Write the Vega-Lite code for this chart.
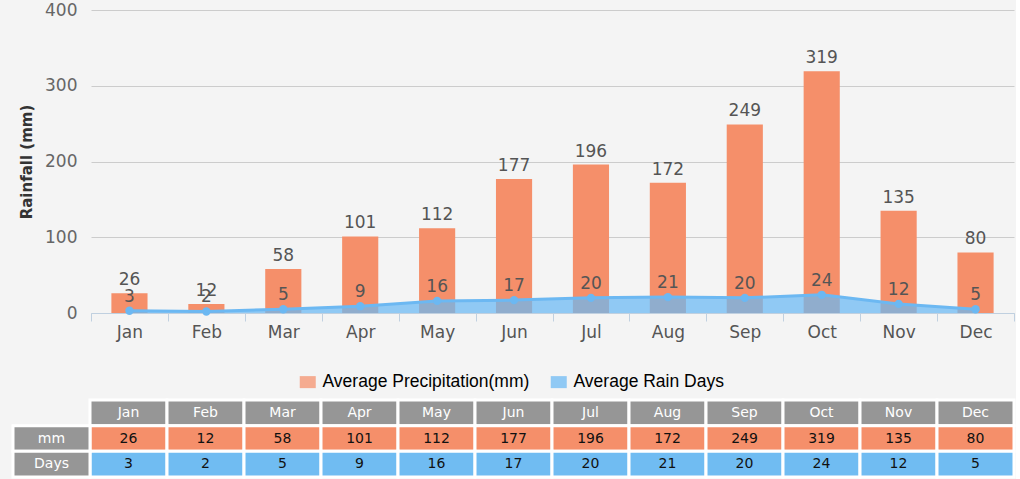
{
  "$schema": "https://vega.github.io/schema/vega-lite/v6.json",
  "background": "#f4f4f4",
  "padding": {"left": 11, "top": 1, "right": 0, "bottom": 2},
  "spacing": 58,
  "config": {"view": {"stroke": null}, "font": "DejaVu Sans"},
  "datasets": {
    "climate": [
      {"month": "Jan", "mm": 26, "days": 3},
      {"month": "Feb", "mm": 12, "days": 2},
      {"month": "Mar", "mm": 58, "days": 5},
      {"month": "Apr", "mm": 101, "days": 9},
      {"month": "May", "mm": 112, "days": 16},
      {"month": "Jun", "mm": 177, "days": 17},
      {"month": "Jul", "mm": 196, "days": 20},
      {"month": "Aug", "mm": 172, "days": 21},
      {"month": "Sep", "mm": 249, "days": 20},
      {"month": "Oct", "mm": 319, "days": 24},
      {"month": "Nov", "mm": 135, "days": 12},
      {"month": "Dec", "mm": 80, "days": 5}
    ],
    "rowlabels": [
      {"month": " ", "row": "mm", "label": "mm"},
      {"month": " ", "row": "Days", "label": "Days"}
    ]
  },
  "vconcat": [
    {
      "width": 923,
      "height": 303,
      "data": {"name": "climate"},
      "encoding": {
        "x": {
          "field": "month", "type": "nominal", "sort": null,
          "scale": {"paddingInner": 0, "paddingOuter": 0},
          "axis": {
            "title": null, "labelAngle": 0, "labelFontSize": 17, "labelColor": "#555",
            "domainColor": "#c0d0e0", "tickColor": "#c0d0e0", "tickSize": 8,
            "tickBand": "extent", "labelPadding": 3, "grid": false
          }
        }
      },
      "layer": [
        {
          "mark": {"type": "bar", "width": {"band": 0.47}},
          "encoding": {
            "y": {
              "field": "mm", "type": "quantitative",
              "scale": {"domain": [0, 400], "nice": false},
              "axis": {
                "title": "Rainfall (mm)", "titleFontSize": 15, "titleFontWeight": "bold",
                "titleColor": "#333", "titlePadding": 10,
                "values": [0, 100, 200, 300, 400], "labelFontSize": 17, "labelColor": "#666",
                "labelPadding": 14, "domain": false, "ticks": false,
                "gridColor": "#cccccc"
              }
            },
            "color": {
              "datum": "Average Precipitation(mm)",
              "scale": {
                "domain": ["Average Precipitation(mm)", "Average Rain Days"],
                "range": ["#f58f6a", "#6ab9f4"]
              },
              "legend": {
                "title": null, "orient": "none", "legendX": 208, "legendY": 363,
                "direction": "horizontal", "symbolType": "M-1,-0.75H1V0.75H-1Z", "symbolSize": 256,
                "symbolOpacity": 1, "symbolStrokeWidth": 0, "labelLimit": 0, "labelOffset": 6,
                "labelFont": "Liberation Sans", "labelFontSize": 17.5, "labelColor": "#000",
                "columnPadding": 20
              }
            }
          }
        },
        {
          "mark": {"type": "area", "opacity": 0.72},
          "encoding": {
            "y": {"field": "days", "type": "quantitative"},
            "color": {"datum": "Average Rain Days"}
          }
        },
        {
          "mark": {"type": "line", "color": "#6cb8f2", "strokeWidth": 3,
                   "point": {"filled": true, "size": 70, "color": "#6cb8f2"}},
          "encoding": {"y": {"field": "days", "type": "quantitative"}}
        },
        {
          "mark": {"type": "text", "dy": -13, "fontSize": 17, "color": "#555"},
          "encoding": {
            "y": {"field": "mm", "type": "quantitative"},
            "text": {"field": "mm", "type": "quantitative"}
          }
        },
        {
          "mark": {"type": "text", "dy": -14, "fontSize": 17, "color": "#555"},
          "encoding": {
            "y": {"field": "days", "type": "quantitative"},
            "text": {"field": "days", "type": "quantitative"}
          }
        }
      ]
    },
    {
      "width": 923,
      "height": 77,
      "encoding": {
        "x": {
          "field": "month", "type": "nominal",
          "scale": {
            "domain": [" ", "Jan", "Feb", "Mar", "Apr", "May", "Jun", "Jul", "Aug", "Sep", "Oct", "Nov", "Dec"],
            "range": [-78, 923], "paddingInner": 0, "paddingOuter": 0
          },
          "axis": null
        }
      },
      "layer": [
        {
          "data": {"name": "climate"},
          "mark": {"type": "rect", "fill": "#969696", "stroke": "#ffffff", "strokeWidth": 3},
          "encoding": {
            "y": {"datum": "hdr", "type": "nominal",
                  "scale": {"domain": ["hdr", "mm", "Days"], "paddingInner": 0, "paddingOuter": 0},
                  "axis": null}
          }
        },
        {
          "data": {"name": "climate"},
          "mark": {"type": "rect", "fill": "#f58f6a", "stroke": "#ffffff", "strokeWidth": 3},
          "encoding": {"y": {"datum": "mm", "type": "nominal"}}
        },
        {
          "data": {"name": "climate"},
          "mark": {"type": "rect", "fill": "#70bcf2", "stroke": "#ffffff", "strokeWidth": 3},
          "encoding": {"y": {"datum": "Days", "type": "nominal"}}
        },
        {
          "data": {"name": "rowlabels"},
          "mark": {"type": "rect", "fill": "#969696", "stroke": "#ffffff", "strokeWidth": 3},
          "encoding": {"y": {"field": "row", "type": "nominal"}}
        },
        {
          "data": {"name": "climate"},
          "mark": {"type": "text", "fontSize": 14, "color": "#ffffff"},
          "encoding": {"y": {"datum": "hdr", "type": "nominal"}, "text": {"field": "month"}}
        },
        {
          "data": {"name": "climate"},
          "mark": {"type": "text", "fontSize": 14, "color": "#111"},
          "encoding": {"y": {"datum": "mm", "type": "nominal"}, "text": {"field": "mm"}}
        },
        {
          "data": {"name": "climate"},
          "mark": {"type": "text", "fontSize": 14, "color": "#111"},
          "encoding": {"y": {"datum": "Days", "type": "nominal"}, "text": {"field": "days"}}
        },
        {
          "data": {"name": "rowlabels"},
          "mark": {"type": "text", "fontSize": 14, "color": "#ffffff"},
          "encoding": {"y": {"field": "row", "type": "nominal"}, "text": {"field": "label"}}
        }
      ]
    }
  ]
}
